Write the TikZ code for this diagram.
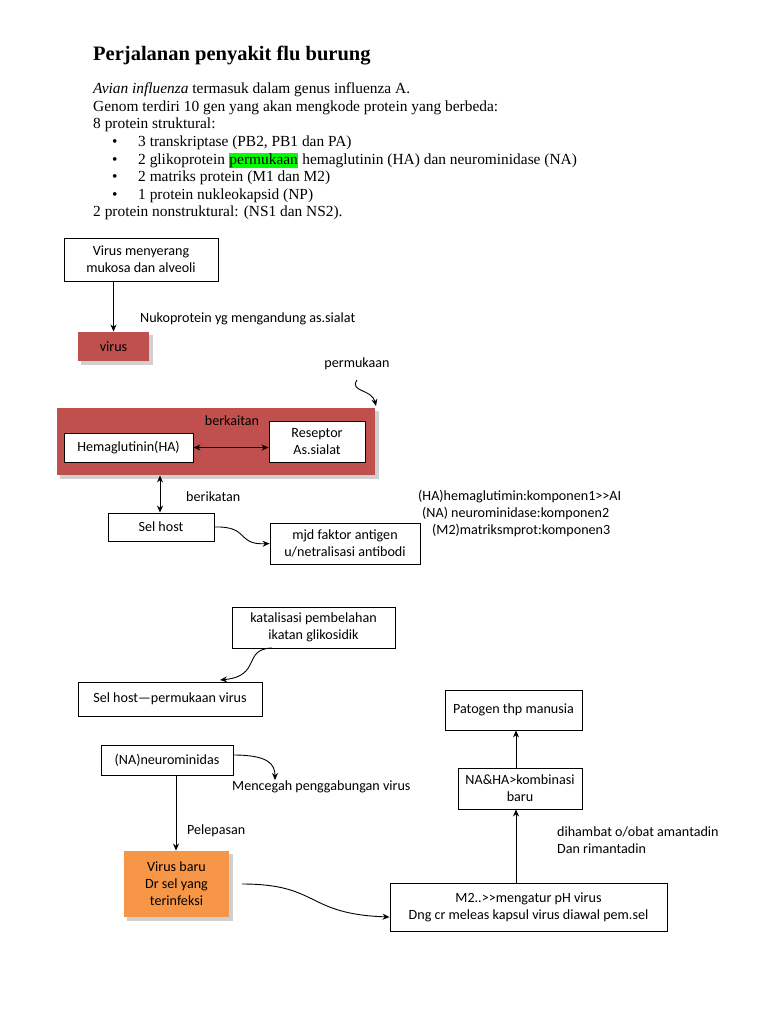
\documentclass[tikz,border=0pt]{standalone}
\usepackage{fontspec}
\setmainfont{Liberation Serif}
\newfontfamily\diag{Carlito}
\usetikzlibrary{arrows.meta}
\definecolor{wordred}{HTML}{C0504D}
\definecolor{wordorange}{HTML}{F79646}
\definecolor{shadowgray}{HTML}{D0D0D0}
\definecolor{hlgreen}{HTML}{00FF00}
\begin{document}
\begin{tikzpicture}[x=1pt,y=-1pt,
  body/.style={anchor=base west,inner sep=0pt,font=\fontsize{15.4}{18}\selectfont},
  box/.style={draw=black,line width=0.9pt,fill=white,text=black,align=center,inner sep=0pt,font=\diag\fontsize{14.1}{17}\selectfont},
  lbl/.style={inner sep=0pt,align=left,font=\diag\fontsize{14.1}{17}\selectfont},
  arr/.style={line width=0.9pt,-{Stealth[length=7pt,width=6pt]}},
  darr/.style={line width=0.9pt,{Stealth[length=7pt,width=6pt]}-{Stealth[length=7pt,width=6pt]}}
]
\useasboundingbox (0,0) rectangle (768,1024);
\fill[white] (0,0) rectangle (768,1024);

% ---- heading text ----
\node[body,font=\bfseries\fontsize{20.5}{24}\selectfont] (title) at (93,61) {Perjalanan penyakit flu burung};
\node[body] (l1) at (93,94) {\textit{Avian influenza} termasuk dalam genus influenza A.};
\node[body] (l2) at (93,111.5) {Genom terdiri 10 gen yang akan mengkode protein yang berbeda:};
\node[body] (l3) at (93,129) {8 protein struktural:};
\node[body] (b1) at (112,147) {\textbullet};
\node[body] (t1) at (138,147) {3 transkriptase (PB2, PB1 dan PA)};
\node[body] (b2) at (112,164.5) {\textbullet};
\node[body] (t2) at (138,164.5) {2 glikoprotein {\setlength{\fboxsep}{0.6pt}\colorbox{hlgreen}{permukaan}} hemaglutinin (HA) dan neurominidase (NA)};
\node[body] (b3) at (112,182) {\textbullet};
\node[body] (t3) at (138,182) {2 matriks protein (M1 dan M2)};
\node[body] (b4) at (112,199.5) {\textbullet};
\node[body] (t4) at (138,199.5) {1 protein nukleokapsid (NP)};
\node[body] (l4) at (93,217) {2 protein nonstruktural: (NS1 dan NS2).};

% ---- upper diagram ----
\node[box,minimum width=154pt,minimum height=43pt] (mukosa) at (141,259.5) {Virus menyerang\\mukosa dan alveoli};

\fill[shadowgray] (81,335) rectangle (152.5,364.5);
\node[box,draw=none,fill=wordred,minimum width=71pt,minimum height=29pt] (virus) at (113.5,346.5) {virus};
\draw[arr] (mukosa.south -| virus) -- (virus.north);
\node[lbl,anchor=west] (nuko) at (140,319) {Nukoprotein yg mengandung as.sialat};

\node[lbl] (perm) at (357,364) {permukaan};
\fill[shadowgray] (60,411) rectangle (379,479);
\node[box,draw=none,fill=wordred,minimum width=318pt,minimum height=67pt] (bigred) at (216,441.5) {};
\coordinate (permS) at (357,380);
\coordinate (permE) at (376,406);
\draw[arr] (permS) .. controls (349,392) and (372,389) .. (permE);

\node[box,minimum width=129pt,minimum height=29pt] (ha) at (128.5,447.5) {Hemaglutinin(HA)};
\node[box,minimum width=96pt,minimum height=41pt] (res) at (317,441.5) {Reseptor\\As.sialat};
\draw[darr] (ha.east) -- (res.west |- ha.east);
\node[lbl] (berkaitan) at (232,421) {berkaitan};

\node[box,minimum width=106pt,minimum height=28pt] (selhost) at (161,527) {Sel host};
\draw[darr] (bigred.south -| 160,0) -- (selhost.north -| 160,0);
\node[lbl,anchor=west] (berikatan) at (186,497) {berikatan};

\node[box,minimum width=150pt,minimum height=41pt] (mjd) at (345,543.5) {mjd faktor antigen\\u/netralisasi antibodi};
\draw[arr] (selhost.east) .. controls (250,526) and (236,545) .. (mjd.west);

\node[lbl,anchor=west] (k1) at (418,497) {(HA)hemaglutimin:komponen1>>AI};
\node[lbl,anchor=west] (k2) at (422,513) {(NA) neurominidase:komponen2};
\node[lbl,anchor=west] (k3) at (432,530) {(M2)matriksmprot:komponen3};

% ---- lower diagram ----
\node[box,minimum width=163pt,minimum height=41pt] (katal) at (313.5,627.5) {katalisasi pembelahan\\ikatan glikosidik};
\node[box,minimum width=184pt,minimum height=34pt] (selperm) at (170,699) {Sel host—permukaan virus};
\coordinate (katalS) at (272,648);
\coordinate (selpermT) at (220,680);
\draw[arr] (katalS) .. controls (242,649) and (262,676) .. (selpermT);

\node[box,minimum width=137pt,minimum height=40pt] (patogen) at (513.5,710) {Patogen thp manusia};
\node[box,minimum width=124pt,minimum height=41pt] (naha) at (520,788.5) {NA\&HA>kombinasi\\baru};
\draw[arr] (naha.north -| 516,0) -- (patogen.south -| 516,0);

\node[box,minimum width=132pt,minimum height=30pt] (naneu) at (167,760) {(NA)neurominidas};
\node[lbl,anchor=west] (mencegah) at (232,787) {Mencegah penggabungan virus};
\coordinate (mencT) at (275,780);
\draw[arr] (naneu.east |- 0,755) .. controls (268,755) and (275,764) .. (mencT);

\fill[shadowgray] (127,854) rectangle (232.5,920.5);
\node[box,draw=none,fill=wordorange,minimum width=105pt,minimum height=66pt] (virbaru) at (176.5,884) {Virus baru\\Dr sel yang\\terinfeksi};
\draw[arr] (naneu.south -| 176,0) -- (virbaru.north -| 176,0);
\node[lbl,anchor=west] (pelepasan) at (187,831) {Pelepasan};

\node[box,minimum width=277pt,minimum height=48pt] (m2) at (528.5,907) {M2..>>mengatur pH virus\\Dng cr meleas kapsul virus diawal pem.sel};
\coordinate (vbE) at (242,884);
\draw[arr] (vbE) .. controls (320,884) and (305,914) .. (m2.west |- 0,917);
\draw[arr] (m2.north -| 516,0) -- (naha.south -| 516,0);
\node[lbl,anchor=west,align=left] (dihambat) at (557,840) {dihambat o/obat amantadin\\Dan rimantadin};
\end{tikzpicture}
\end{document}
